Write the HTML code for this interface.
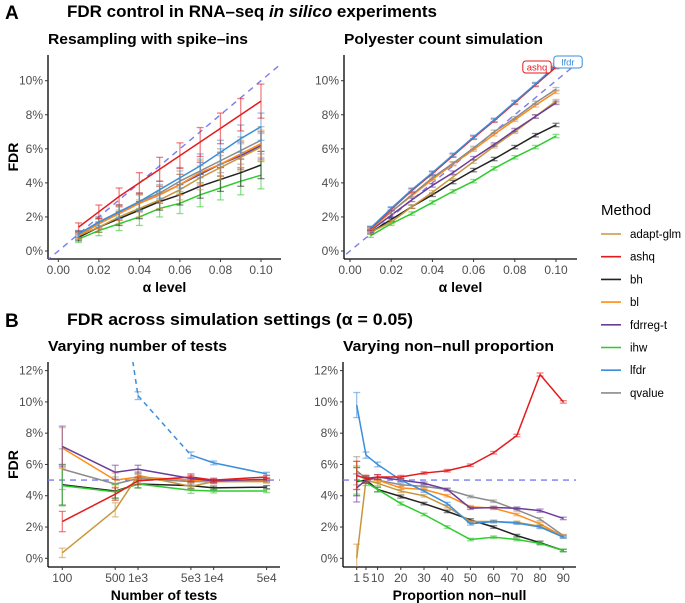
<!DOCTYPE html>
<html><head><meta charset="utf-8"><style>
body{margin:0;background:#fff;}
svg{display:block;font-family:"Liberation Sans",sans-serif;}
.tick{font-size:12px;fill:#4d4d4d;}
.sub{font-size:15px;font-weight:bold;fill:#000;}
.axt{font-size:14px;font-weight:bold;fill:#000;}
</style></head><body>
<svg id="fig" width="685" height="603" viewBox="0 0 685 603">
<defs>
<clipPath id="cA1"><rect x="48" y="55" width="233" height="204"/></clipPath>
<clipPath id="cA2"><rect x="344" y="55" width="233" height="204"/></clipPath>
<clipPath id="cB1"><rect x="48" y="362" width="232" height="205"/></clipPath>
<clipPath id="cB2"><rect x="343" y="362" width="233" height="205"/></clipPath>
</defs>
<text x="5" y="19" font-size="19" font-weight="bold">A</text>
<text x="67" y="17" font-size="17" font-weight="bold" textLength="370" lengthAdjust="spacingAndGlyphs">FDR control in RNA–seq <tspan font-style="italic">in silico</tspan> experiments</text>
<text x="5" y="327" font-size="19" font-weight="bold">B</text>
<text x="67" y="325" font-size="17" font-weight="bold" textLength="346" lengthAdjust="spacingAndGlyphs">FDR across simulation settings (α = 0.05)</text>
<text class="sub" x="48" y="44" textLength="200" lengthAdjust="spacingAndGlyphs">Resampling with spike–ins</text>
<text class="sub" x="344" y="44" textLength="199" lengthAdjust="spacingAndGlyphs">Polyester count simulation</text>
<text class="sub" x="48" y="351" textLength="179" lengthAdjust="spacingAndGlyphs">Varying number of tests</text>
<text class="sub" x="343" y="351" textLength="211" lengthAdjust="spacingAndGlyphs">Varying non–null proportion</text>
<g id="plots"></g>
<g id="legend"></g>
</svg>
<script>
const methods=["adapt-glm","ashq","bh","bl","fdrreg-t","ihw","lfdr","qvalue"];
const colors={"adapt-glm":"#C9963C","ashq":"#E41A1C","bh":"#222222","bl":"#FF8C1A","fdrreg-t":"#6A3D9A","ihw":"#2DCB2D","lfdr":"#3A8EDB","qvalue":"#8C8C8C"};
const alphaLevels=[0.01,0.02,0.03,0.04,0.05,0.06,0.07,0.08,0.09,0.10];
const alphaTicks=[0,0.02,0.04,0.06,0.08,0.10];
const fdrTicksA=[0,2,4,6,8,10];
const fdrTicksB=[0,2,4,6,8,10,12];
const spikeAdapt=[0.9,1.4,2.0,2.5,3.0,3.6,4.3,4.9,5.5,6.1];
const spikeAshq=[1.4,2.3,3.2,4.0,4.8,5.6,6.4,7.2,8.0,8.8];
const spikeBh=[0.8,1.4,1.9,2.4,2.9,3.3,3.8,4.2,4.6,5.05];
const spikeBl=[0.9,1.6,2.2,2.8,3.3,3.9,4.6,5.1,5.7,6.3];
const spikeFdrreg=[0.9,1.6,2.2,2.8,3.3,3.9,4.5,5.1,5.6,6.2];
const spikeIhw=[0.7,1.2,1.6,2.0,2.5,2.8,3.3,3.7,4.1,4.45];
const spikeLfdr=[1.0,1.7,2.3,2.9,3.6,4.3,5.0,5.8,6.6,7.3];
const spikeQvalue=[1.0,1.7,2.3,2.9,3.4,4.1,4.7,5.3,5.9,6.5];
const spikeErr=[0.2,0.3,0.4,0.5,0.5,0.6,0.7,0.7,0.8,0.8];
const spikeErrAshq=[0.25,0.4,0.5,0.6,0.7,0.75,0.85,0.9,0.95,1.0];
const polyAdapt=[1.1,1.7,2.6,3.45,4.35,5.25,6.15,7.0,7.9,8.8];
const polyAshq=[1.3,2.45,3.55,4.55,5.6,6.65,7.65,8.7,9.75,10.8];
const polyBh=[1.1,1.85,2.6,3.3,4.05,4.75,5.4,6.1,6.8,7.4];
const polyBl=[1.25,2.3,3.25,4.2,5.1,5.95,6.85,7.7,8.55,9.35];
const polyFdrreg=[1.2,2.1,3.0,3.85,4.6,5.45,6.25,7.1,7.9,8.7];
const polyIhw=[0.9,1.6,2.2,2.85,3.5,4.1,4.85,5.5,6.1,6.75];
const polyLfdr=[1.35,2.5,3.6,4.6,5.65,6.7,7.7,8.75,9.8,10.9];
const polyQvalue=[1.35,2.3,3.3,4.3,5.15,6.05,7.0,7.8,8.7,9.5];
const nTests=[100,500,1000,5000,10000,50000];
const nTestLabels=["100","500","1e3","5e3","1e4","5e4"];
const ntAdapt=[0.35,3.1,5.3,4.6,4.9,4.9];
const ntAshq=[2.35,4.1,4.95,5.2,5.0,5.2];
const ntBh=[4.7,4.3,4.75,4.65,4.5,4.55];
const ntBl=[7.05,5.0,5.2,5.0,4.9,5.0];
const ntFdrreg=[7.15,5.5,5.7,5.1,4.95,5.05];
const ntIhw=[4.65,4.25,4.75,4.35,4.3,4.3];
const ntLfdr=[null,20,10.4,6.6,6.1,5.4];
const ntQvalue=[5.7,4.75,5.1,4.9,4.9,4.95];
const ntErr=[1.3,0.45,0.25,0.2,0.12,0.1];
const ntErrAdapt=[0.3,0.45,0.25,0.2,0.12,0.1];
const ntErrAshq=[0.65,0.4,0.25,0.2,0.12,0.1];
const props=[1,5,10,20,30,40,50,60,70,80,90];
const propAdapt=[0.0,5.0,4.8,4.3,4.0,3.3,2.35,2.35,2.3,2.05,1.4];
const propAshq=[5.3,5.1,5.2,5.2,5.45,5.6,5.95,6.75,7.85,11.75,10.0];
const propBh=[4.9,5.0,4.4,3.95,3.5,3.0,2.45,2.0,1.45,1.0,0.5];
const propBl=[5.3,5.1,5.0,4.5,4.4,4.0,3.3,3.2,2.8,2.2,1.4];
const propFdrreg=[4.5,5.0,5.2,5.0,4.8,4.4,3.2,3.25,3.2,3.05,2.55];
const propIhw=[5.0,4.85,4.4,3.5,2.8,2.0,1.2,1.35,1.2,0.95,0.5];
const propLfdr=[9.8,6.6,6.0,5.0,4.3,3.5,2.2,2.35,2.25,2.0,1.35];
const propQvalue=[5.6,5.1,5.0,4.7,4.6,4.4,3.95,3.65,3.1,2.5,1.45];
const propErr=[0.9,0.2,0.15,0.1,0.08,0.08,0.08,0.08,0.08,0.1,0.08];
const propErrLfdr=[0.8,0.2,0.15,0.1,0.08,0.08,0.08,0.08,0.08,0.1,0.08];

const NS="http://www.w3.org/2000/svg";
const root=document.getElementById("plots");
function mk(tag,attrs,parent){const e=document.createElementNS(NS,tag);for(const k in attrs)e.setAttribute(k,attrs[k]);(parent||root).appendChild(e);return e;}

const xA1=v=>58.3+v*2027, xA2=v=>350+v*2060;
const yA=v=>251-v*17.03;
const xB1=v=>62.3+(Math.log10(v)-2)*75.7;
const xB2=v=>356.7+(v-1)*2.321;
const yB=v=>558.3-v*15.64;

function axes(name,x0,x1,yTop,yBot,xs,xLabels,xf,yTicks,yf,xTitle,yTitle){
  const g=mk("g",{});
  
  
  mk("line",{x1:x0,y1:yTop,x2:x0,y2:yBot,stroke:"#000","stroke-width":1.3},g);
  mk("line",{x1:x0,y1:yBot,x2:x1,y2:yBot,stroke:"#000","stroke-width":1.3},g);
  yTicks.forEach(t=>{const y=yf(t);
    mk("line",{x1:x0-3,y1:y,x2:x0,y2:y,stroke:"#333"},g);
    const tx=mk("text",{x:x0-5,y:y+4,"text-anchor":"end",class:"tick"},g);tx.textContent=t+"%";
    
    
  });
  xs.forEach((t,i)=>{const x=xf(t);
    mk("line",{x1:x,y1:yBot,x2:x,y2:yBot+3,stroke:"#333"},g);
    const tx=mk("text",{x:x,y:yBot+15,"text-anchor":"middle",class:"tick"},g);tx.textContent=xLabels[i];
    
    
  });
  const xt=mk("text",{x:(x0+x1)/2,y:yBot+33,"text-anchor":"middle",class:"axt"},g);xt.textContent=xTitle;
  
  
  if(yTitle){const yt=mk("text",{x:0,y:0,"text-anchor":"middle",class:"axt",transform:`translate(18,${(yTop+yBot)/2}) rotate(-90)`},g);yt.textContent=yTitle;
    
    }
}
function series(clip,name,m,xs,vals,errs,xf,yf,dashUntil){
  const g=mk("g",{"clip-path":`url(#${clip})`});
  
  
  const c=colors[m];
  xs.forEach((x,i)=>{const v=vals[i];if(v==null||!errs)return;const e=errs[i];const px=xf(x);
    mk("line",{x1:px,y1:yf(v-e),x2:px,y2:yf(v+e),stroke:c,"stroke-opacity":0.55,"stroke-width":1.3},g);
    mk("line",{x1:px-3.5,y1:yf(v-e),x2:px+3.5,y2:yf(v-e),stroke:c,"stroke-opacity":0.55,"stroke-width":1.3},g);
    mk("line",{x1:px-3.5,y1:yf(v+e),x2:px+3.5,y2:yf(v+e),stroke:c,"stroke-opacity":0.55,"stroke-width":1.3},g);
  });
  for(let i=0;i<xs.length-1;i++){const a=vals[i],b=vals[i+1];if(a==null||b==null)continue;
    const seg=mk("line",{x1:xf(xs[i]),y1:yf(a),x2:xf(xs[i+1]),y2:yf(b),stroke:c,"stroke-width":1.5},g);
    if(dashUntil!=null&&i<dashUntil)seg.setAttribute("stroke-dasharray","5,4");
  }
}
function diag(clip,xf,x0,x1){const g=mk("line",{x1:xf(x0),y1:yA(x0*100),x2:xf(x1),y2:yA(x1*100),stroke:"#7B7BF0","stroke-width":1.4,"stroke-dasharray":"6,5","clip-path":`url(#${clip})`});
  
  }
function hline(clip,x0,x1,yv){const g=mk("line",{x1:x0,y1:yB(yv),x2:x1,y2:yB(yv),stroke:"#7B7BF0","stroke-width":1.4,"stroke-dasharray":"6,5","clip-path":`url(#${clip})`});
  
  }

axes("spikein",48,281,55,259,alphaTicks,["0.00","0.02","0.04","0.06","0.08","0.10"],xA1,fdrTicksA,yA,"α level","FDR");
diag("cA1",xA1,-0.006,0.115);
const spk={"adapt-glm":spikeAdapt,"ashq":spikeAshq,"bh":spikeBh,"bl":spikeBl,"fdrreg-t":spikeFdrreg,"ihw":spikeIhw,"lfdr":spikeLfdr,"qvalue":spikeQvalue};
["ihw","bh","adapt-glm","fdrreg-t","bl","qvalue","lfdr","ashq"].forEach(m=>series("cA1","spikein",m,alphaLevels,spk[m],m=="ashq"?spikeErrAshq:spikeErr,xA1,yA));
axes("polyester",344,577,55,259,alphaTicks,["0.00","0.02","0.04","0.06","0.08","0.10"],xA2,fdrTicksA,yA,"α level",null);
diag("cA2",xA2,-0.006,0.115);
const ply={"adapt-glm":polyAdapt,"ashq":polyAshq,"bh":polyBh,"bl":polyBl,"fdrreg-t":polyFdrreg,"ihw":polyIhw,"lfdr":polyLfdr,"qvalue":polyQvalue};
const smallErr=alphaLevels.map(()=>0.1);
["ihw","bh","adapt-glm","fdrreg-t","bl","qvalue","ashq","lfdr"].forEach(m=>series("cA2","polyester",m,alphaLevels,ply[m],smallErr,xA2,yA));
function tag(txt,x,y,c,lx,ly){
  const g=mk("g",{});
  
  
  const w=txt.length*5.6+6;
  mk("rect",{x:x-w/2,y:y-6,width:w,height:12,rx:3,fill:"#fff",stroke:c,"stroke-width":1},g);
  const t=mk("text",{x:x,y:y+3.5,"text-anchor":"middle","font-size":9.5,fill:c},g);t.textContent=txt;
  if(lx!=null)mk("line",{x1:x+w/2,y1:y,x2:lx,y2:ly,stroke:c,"stroke-width":1},g);
}
tag("ashq",537,67,colors.ashq,xA2(0.10),yA(polyAshq[9]));
tag("lfdr",568,62,colors.lfdr,null,null);
axes("ntests",48,280,362,567,nTests,nTestLabels,xB1,fdrTicksB,yB,"Number of tests","FDR");
hline("cB1",48,280,5);
const nt={"adapt-glm":ntAdapt,"ashq":ntAshq,"bh":ntBh,"bl":ntBl,"fdrreg-t":ntFdrreg,"ihw":ntIhw,"lfdr":ntLfdr,"qvalue":ntQvalue};
["bh","qvalue","ihw","adapt-glm","bl","fdrreg-t","ashq"].forEach(m=>series("cB1","ntests",m,nTests,nt[m],m=="adapt-glm"?ntErrAdapt:(m=="ashq"?ntErrAshq:ntErr),xB1,yB));
series("cB1","ntests","lfdr",nTests,ntLfdr,ntErr,xB1,yB,3);
axes("nonnull",343,576,362,567,props,props.map(String),xB2,fdrTicksB,yB,"Proportion non–null",null);
hline("cB2",343,576,5);
const pr={"adapt-glm":propAdapt,"ashq":propAshq,"bh":propBh,"bl":propBl,"fdrreg-t":propFdrreg,"ihw":propIhw,"lfdr":propLfdr,"qvalue":propQvalue};
["qvalue","bh","ihw","bl","adapt-glm","fdrreg-t","lfdr","ashq"].forEach(m=>series("cB2","nonnull",m,props,pr[m],m=="lfdr"?propErrLfdr:propErr,xB2,yB));

const lg=document.getElementById("legend");
const lt=mk("text",{x:601,y:215,"font-size":15,fill:"#000"},lg);lt.textContent="Method";
methods.forEach((m,i)=>{const y=234+i*22.7;
  const g=mk("g",{},lg);
  
  
  mk("line",{x1:601,y1:y,x2:621,y2:y,stroke:colors[m],"stroke-width":1.6},g);
  const t=mk("text",{x:630,y:y+4,"font-size":11.5,fill:"#000"},g);t.textContent=m;
});
</script>
</body></html>
